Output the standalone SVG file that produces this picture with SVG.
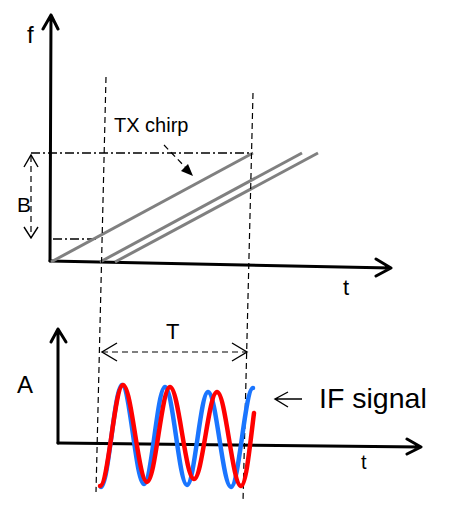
<svg xmlns="http://www.w3.org/2000/svg" width="466" height="516" viewBox="0 0 466 516">
<style>
.ax{stroke:#000;stroke-width:3;fill:none;stroke-linecap:round;stroke-linejoin:round}
.dash{stroke:#000;stroke-width:1.2;fill:none;stroke-dasharray:6,4}
.dd{stroke:#000;stroke-width:1.5;fill:none;stroke-dasharray:9,3,2,3}
.thin{stroke:#000;stroke-width:1.4;fill:none}
.chirp{stroke:#808080;stroke-width:3;fill:none}
.t{font-family:"Liberation Sans",Arial,sans-serif;fill:#000}
</style>
<rect width="466" height="516" fill="#fff"/>
<g id="top-plot">
  <path class="ax" d="M50,261 L51,15 M43,29 L51,15 L58,29"/>
  <path class="ax" d="M50,261 L391,268 M376,259 L391,268 L376,276"/>
  <text class="t" x="27" y="43" font-size="24">f</text>
  <text class="t" x="343" y="295" font-size="22">t</text>
  <path class="dd" d="M31,153 L253,153"/>
  <path class="dd" d="M53,239 L97,239"/>
  <path class="dash" d="M31,156 L31,237" stroke-dasharray="4,3"/>
  <path class="thin" d="M24,167 L31,155 L38,167 M24,227 L31,238 L38,227"/>
  <text class="t" x="17" y="212" font-size="21">B</text>
  <path class="chirp" d="M51,262 L253,153"/>
  <path class="chirp" d="M100,262 L302,153"/>
  <path class="chirp" d="M115,262 L318,153"/>
  <text class="t" x="114" y="132" font-size="20">TX chirp</text>
  <path class="dash" d="M164,145 L186,168" stroke-dasharray="4,3"/>
  <polygon points="193,176 181,171 188,164" fill="#000"/>
</g>
<g id="guides">
  <path class="dash" d="M106,77 L96,492"/>
  <path class="dash" d="M253,93 L243,502"/>
</g>
<g id="bottom-plot">
  <path class="ax" d="M58,443 L58,329 M51,342 L58,329 L66,342"/>
  <path class="ax" d="M58,443 L421,447 M407,439 L421,447 L407,454"/>
  <text class="t" x="17" y="393" font-size="24">A</text>
  <text class="t" x="361" y="469" font-size="20">t</text>
  <path class="dash" d="M102,352 L246,352" stroke-dasharray="5,4"/>
  <path class="thin" d="M117,343 L102,352 L117,361 M232,343 L247,352 L232,361"/>
  <text class="t" x="166" y="339" font-size="22">T</text>
  <path d="M101,487 C108.3,487 114.7,385 122,385 C130,385 136,484 144,484 C151.6,484 157.4,387 165,387 C173,387 179,485 187,485 C194.6,485 200.4,392 208,392 C216.4,392 222.6,487 231,487 C239,487 245,388 253,388" fill="none" stroke="#1a75ff" stroke-width="4.5" stroke-linecap="round"/>
  <path d="M100,486 C108.4,486 114.6,385 123,385 C131.7,385 138.3,482 147,482 C155.4,482 161.6,387 170,387 C178.7,387 185.3,479 194,479 C202.4,479 208.6,392 217,392 C225.7,392 232.3,486 241,486 C246,486 250,445 254,413" fill="none" stroke="#ff0000" stroke-width="4.5" stroke-linecap="round"/>
  <path class="thin" d="M275,399 L302,399 M288,392 L275,399 L288,407"/>
  <text class="t" x="319" y="408" font-size="28.5">IF signal</text>
</g>
</svg>
